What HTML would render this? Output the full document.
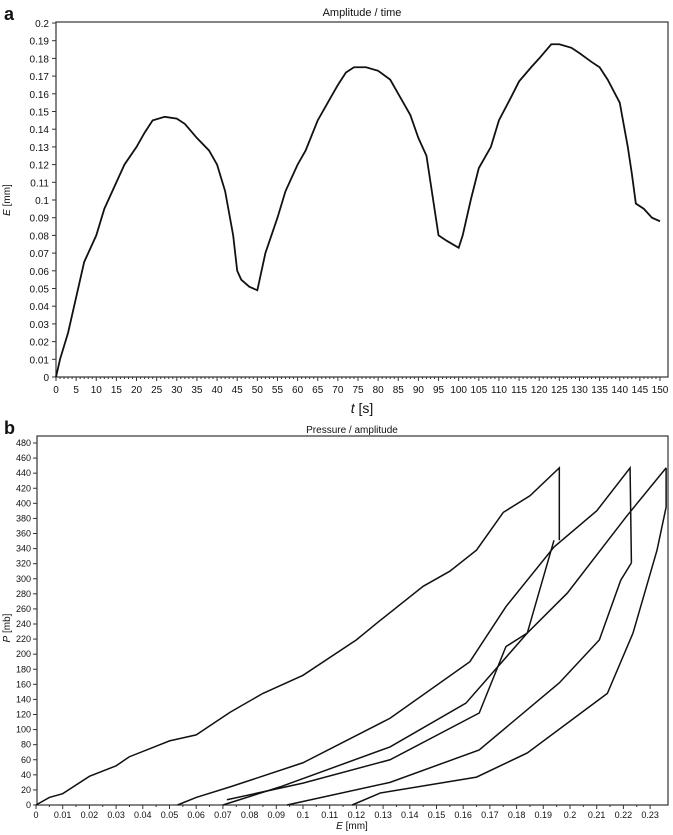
<!DOCTYPE html>
<html><head><meta charset="utf-8"><style>
body{margin:0;background:#fff}
svg{display:block;font-family:"Liberation Sans",sans-serif}
</style></head><body>
<svg id="c" width="673" height="835" viewBox="0 0 673 835" xmlns="http://www.w3.org/2000/svg"></svg>
<script>
const tA=[0,1,3,5,7,10,12,15,17,20,22,24,27,30,32,35,38,40,42,44,45,46,48,50,52,55,57,60,62,65,68,70,72,74,77,80,83,85,88,90,92,93,94,95,97,100,101,103,105,108,110,113,115,118,120,123,125,128,130,133,135,137,140,142,143,144,146,148,150];
const eA=[0,0.01,0.025,0.045,0.065,0.08,0.095,0.11,0.12,0.13,0.138,0.145,0.147,0.146,0.143,0.135,0.128,0.12,0.105,0.08,0.06,0.055,0.051,0.049,0.07,0.09,0.105,0.12,0.128,0.145,0.157,0.165,0.172,0.175,0.175,0.173,0.168,0.16,0.148,0.135,0.125,0.11,0.095,0.08,0.077,0.073,0.08,0.1,0.118,0.13,0.145,0.158,0.167,0.175,0.18,0.188,0.188,0.186,0.183,0.178,0.175,0.168,0.155,0.13,0.115,0.098,0.095,0.09,0.088];
const b1E=[0,0.005,0.01,0.02,0.03,0.035,0.045,0.05,0.06,0.0727,0.085,0.1,0.12,0.129,0.145,0.155,0.165,0.175,0.185,0.196,0.196];
const b1P=[0,10,15,38,52,64,78,85,93,123,148,172,219,245,290,310,338,388,410,447,351];
const b2E=[0.053,0.06,0.0727,0.1,0.1326,0.1625,0.176,0.194,0.21,0.2225,0.223];
const b2P=[0,10,24,56,115,190,263,342,390,447,321];
const b3E=[0.07,0.0914,0.1326,0.161,0.184,0.194];
const b3P=[0,24,77,135,228,351];
const b4E=[0.0715,0.1,0.1326,0.166,0.176,0.184,0.199,0.221,0.236];
const b4P=[7,29,60,122,210,228,281,382,447];
const b5E=[0.094,0.1326,0.166,0.196,0.211,0.219,0.223];
const b5P=[0,30,73,162,219,298,321];
const b6E=[0.1184,0.129,0.165,0.184,0.214,0.2236,0.2326,0.236,0.236];
const b6P=[0,16,37,69,148,228,338,395,447];

const svg=document.getElementById('c');const NS='http://www.w3.org/2000/svg';
function mk(t,a,p){const e=document.createElementNS(NS,t);for(const k in a)e.setAttribute(k,a[k]);(p||svg).appendChild(e);return e;}
function txt(x,y,s,sz,anc,name){const e=mk('text',{x:x,y:y,'font-size':sz,'text-anchor':anc||'middle',fill:'#111'});e.textContent=s;

return e;}
// Chart A
const ax=t=>56+t*(604/150), ay=v=>377-v*(354/0.2);
let r=mk('rect',{x:56,y:22,width:612,height:355,fill:'none',stroke:'#333','stroke-width':1.2});

txt(4,20,'a',18,'start','panel-label-a').setAttribute('font-weight','bold');
txt(362,16,'Amplitude / time',11,'middle','chart-a-title');
for(let i=0;i<=20;i++){const v=i/100,y=ay(v);mk('line',{x1:52,x2:56,y1:y,y2:y,stroke:'#333'});
txt(49,y+4,String(+v.toFixed(2)),10,'end','y-tick-a');}
for(let t=0;t<=150;t+=5){const x=ax(t);mk('line',{x1:x,x2:x,y1:377,y2:381,stroke:'#333'});txt(x,393,String(t),10,'middle','x-tick-a');}
for(let t=1;t<150;t++){if(t%5){const x=ax(t);mk('line',{x1:x,x2:x,y1:377,y2:379,stroke:'#333'});}}
const ya=txt(0,0,'',10,'middle','y-axis-title-a');ya.setAttribute('transform','translate(10,200) rotate(-90)');ya.innerHTML='<tspan font-style="italic">E</tspan> [mm]';
const xa=txt(362,413,'',14,'middle','x-axis-title-a');xa.innerHTML='<tspan font-style="italic">t</tspan> [s]';
let p=mk('polyline',{points:tA.map((t,i)=>ax(t)+','+ay(eA[i])).join(' '),fill:'none',stroke:'#111','stroke-width':1.8});

// Chart B
const bx=e=>36+e*2670, by=v=>805-v*(362/480);
r=mk('rect',{x:37,y:436,width:631,height:369,fill:'none',stroke:'#333','stroke-width':1.2});

txt(4,434,'b',18,'start','panel-label-b').setAttribute('font-weight','bold');
txt(352,433,'Pressure / amplitude',10,'middle','chart-b-title');
for(let v=0;v<=480;v+=20){const y=by(v);mk('line',{x1:33,x2:37,y1:y,y2:y,stroke:'#333'});txt(31,y+3,String(v),9,'end','y-tick-b');}
for(let i=0;i<=23;i++){const x=bx(i/100);mk('line',{x1:x,x2:x,y1:805,y2:809,stroke:'#333'});txt(x,818,String(+(i/100).toFixed(2)),9,'middle','x-tick-b');}
for(let i=1;i<47;i+=2){const x=bx(i/200);mk('line',{x1:x,x2:x,y1:805,y2:807,stroke:'#333'});}
const yb=txt(0,0,'',10,'middle','y-axis-title-b');yb.setAttribute('transform','translate(10,628) rotate(-90)');yb.innerHTML='<tspan font-style="italic">P</tspan> [mb]';
const xb=txt(352,829,'',10,'middle','x-axis-title-b');xb.innerHTML='<tspan font-style="italic">E</tspan> [mm]';
[[b1E,b1P],[b2E,b2P],[b3E,b3P],[b4E,b4P],[b5E,b5P],[b6E,b6P]].forEach((s,k)=>{
const l=mk('polyline',{points:s[0].map((e,i)=>bx(e)+','+by(s[1][i])).join(' '),fill:'none',stroke:'#111','stroke-width':1.5});

});
</script>
</body></html>
